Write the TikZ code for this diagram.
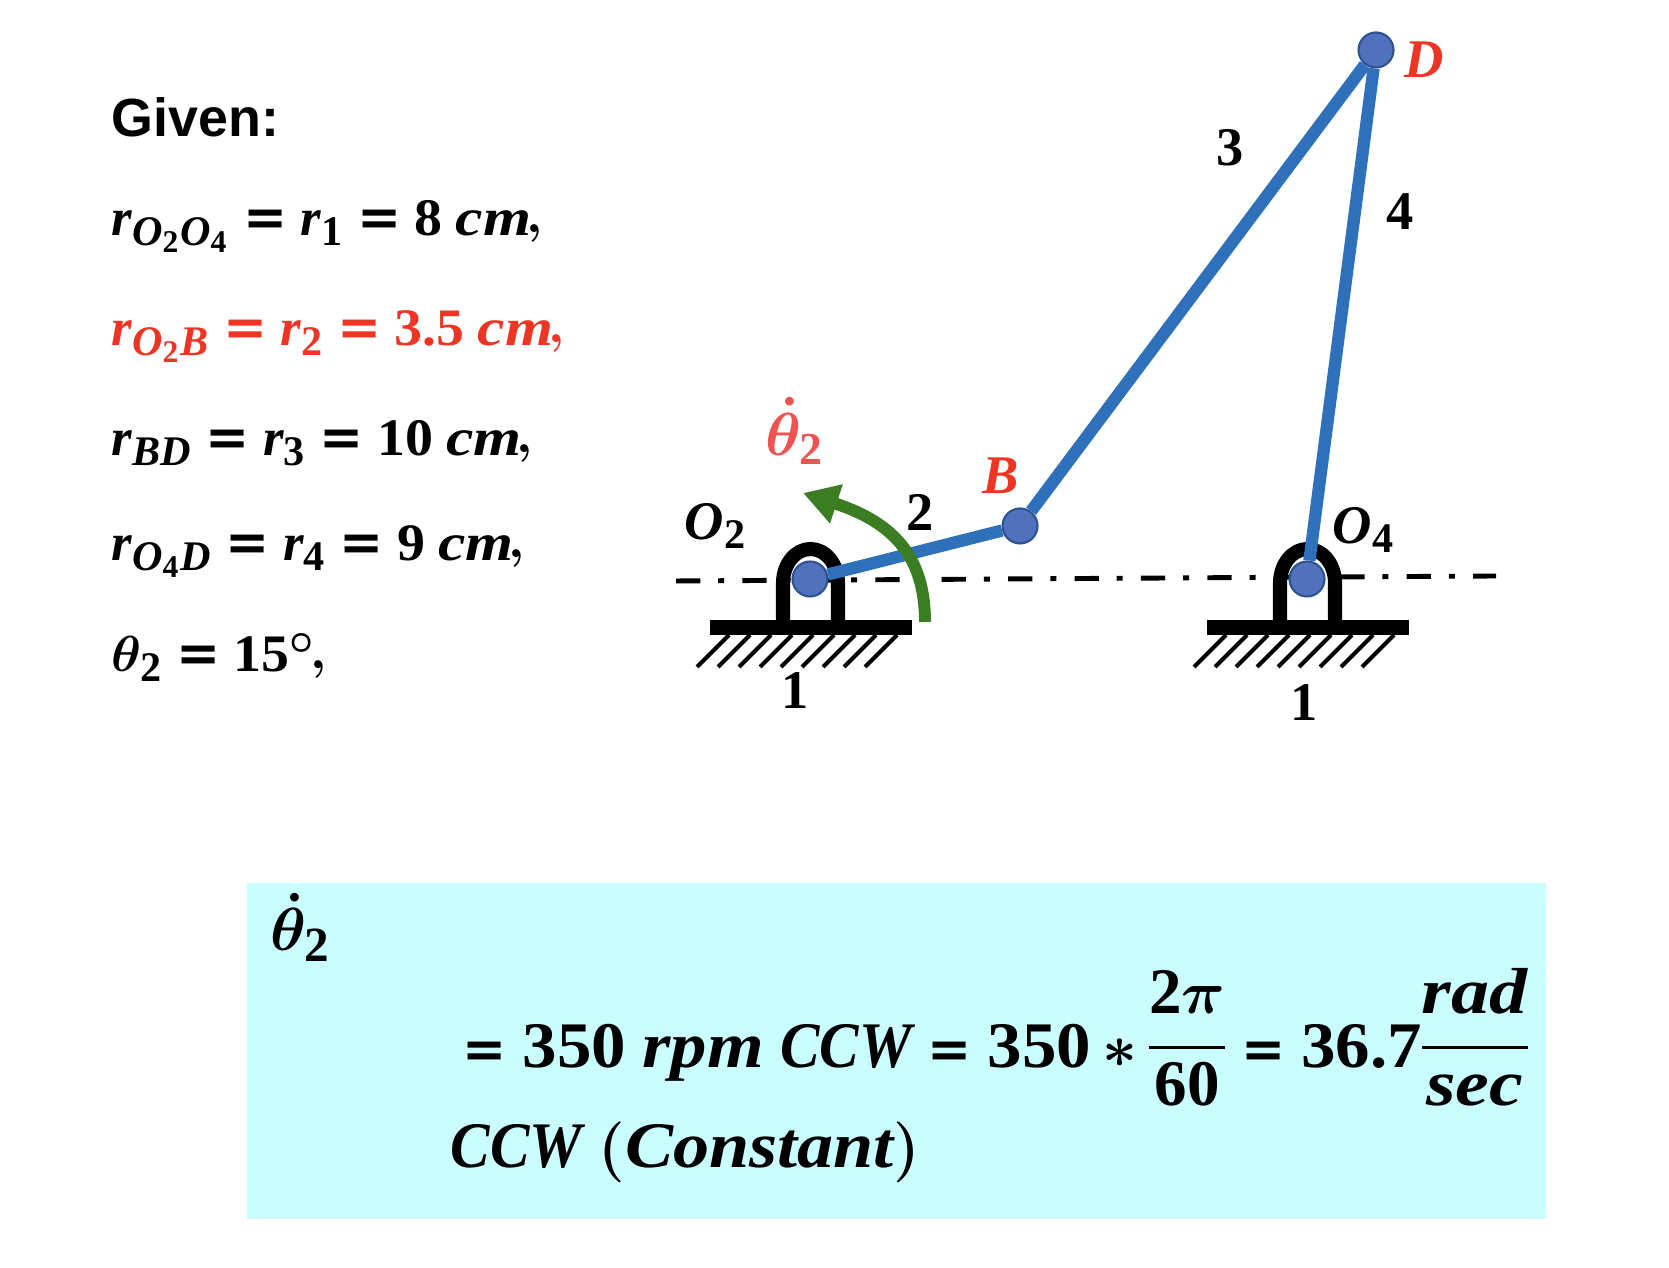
\documentclass[tikz,border=0pt]{standalone}
\usepackage{amsmath}
\usepackage{amssymb}
\usepackage{graphicx}
\usepackage{fontspec}
\usepackage{tikz}
\usepackage{color}
\usetikzlibrary{arrows.meta}
\setmainfont{Liberation Serif}
\newfontfamily\givenfont{Liberation Sans}
\newfontfamily\eqfont{DejaVu Sans}
\DeclareMathSizes{15}{15}{12}{9}
\DeclareMathSizes{15.5}{15.5}{12}{9}
\DeclareMathSizes{17}{17}{13}{9}
\DeclareMathSizes{18.5}{18.5}{14}{10}
\newcommand{\mi}[1]{\mathit{#1}}
\newcommand{\nb}[1]{\text{\bfseries #1}}
\newcommand{\bnum}[1]{\scalebox{1.06}[1]{\bfseries #1}}
\newcommand{\eqs}{\mathrel{\mbox{\fontsize{15}{18}\eqfont\bfseries =}}}
\newcommand{\wide}[2][1.17]{\scalebox{#1}[1]{$\mathit{#2}$}}
\newcommand{\upnum}[1]{\raisebox{1pt}{$#1$}}
\newcommand{\tailcomma}{\mkern-1.5mu\raisebox{1pt}{$,$}}
\thickmuskip=4.1mu\relax
\medmuskip=3mu\relax
\nulldelimiterspace=0pt\relax
\definecolor{linkblue}{HTML}{2E71BA}
\definecolor{pinfill}{HTML}{4F71BE}
\definecolor{pinedge}{HTML}{2F528F}
\definecolor{redtext}{HTML}{EE3524}
\definecolor{ratered}{HTML}{EF5350}
\definecolor{arrowgreen}{HTML}{3A7D22}
\definecolor{boxcyan}{HTML}{C9FDFF}
\tikzset{
    eqn/.style={anchor=base west, inner sep=0pt, font=\fontsize{15}{18}\selectfont\boldmath},
    lbl/.style={inner sep=0pt, font=\fontsize{15.5}{18}\selectfont\boldmath},
    boxeqn/.style={anchor=base west, inner sep=0pt, font=\fontsize{18.5}{22}\selectfont\boldmath},
    link/.style={linkblue, line width=3.5pt},
    pin/.style={circle, fill=pinfill, draw=pinedge, line width=0.6pt, minimum size=0.35cm, inner sep=0pt},
    arch/.style={black, line width=4pt},
    hatch/.style={black, line width=1.2pt}
}
\begin{document}
\begin{tikzpicture}
    \useasboundingbox (0,0) rectangle (16.69,12.68);

    % given values
    \node[anchor=base west, inner sep=0pt, font=\fontsize{15.3}{18}\selectfont\givenfont\bfseries] (given) at (1.11,11.31) {Given:};
    \node[eqn] (rone) at (1.11,10.32) {$\mi{r}_{\mi{O}_{\nb{2}}\mi{O}_{\nb{4}}}\eqs\mi{r}_{\nb{1}}\eqs\bnum{8}\ \wide{cm}\tailcomma$};
    \node[eqn, text=redtext] (rtwo) at (1.11,9.22) {$\mi{r}_{\mi{O}_{\nb{2}}\mi{B}}\eqs\mi{r}_{\nb{2}}\eqs\bnum{3.5}\ \wide{cm}\tailcomma$};
    \node[eqn] (rthree) at (1.11,8.12) {$\mi{r}_{\mi{BD}}\eqs\mi{r}_{\nb{3}}\eqs\bnum{10}\ \wide{cm}\tailcomma$};
    \node[eqn] (rfour) at (1.11,7.07) {$\mi{r}_{\mi{O}_{\nb{4}}\mi{D}}\eqs\mi{r}_{\nb{4}}\eqs\bnum{9}\ \wide{cm}\tailcomma$};
    \node[eqn] (thetatwo) at (1.11,5.96) {$\theta_{\nb{2}}\eqs\bnum{15}^{\circ}\tailcomma$};

    % center line
    \coordinate (axisL) at (6.76,6.87);
    \coordinate (axisR) at (14.96,6.92);
    \draw[black, line width=1.4pt, dash pattern=on 6.9pt off 5.1pt on 1.7pt off 5.2pt] (axisL) -- (axisR);

    % ground supports
    \foreach \gx in {8.10,13.07} {
        \fill[black] ({\gx-1},6.33) rectangle ({\gx+1.02},6.48);
        \draw[arch] ({\gx-0.27},6.45) -- ({\gx-0.27},6.85) arc[start angle=180, end angle=0, x radius=0.275, y radius=0.34] -- ({\gx+0.28},6.45);
        \foreach \i in {0,...,8}
            \draw[hatch] ({\gx-0.81+\i*0.21},6.33) -- ++(-0.32,-0.32);
    }

    % pins
    \node[pin] (O2) at (8.10,6.89) {};
    \node[pin] (B) at (10.20,7.42) {};
    \node[pin] (D) at (13.76,12.18) {};
    \node[pin] (O4) at (13.07,6.89) {};

    % links
    \draw[link] (O2) -- (B);
    \draw[link] (B) -- (D);
    \draw[link] (O4) -- (D);

    % input rotation
    \coordinate (arrowS) at (9.25,6.46);
    \coordinate (arrowE) at (8.03,7.75);
    \draw[arrowgreen, line width=3.4pt, -{Triangle[length=10pt, width=11pt]}] (arrowS) .. controls (9.25,7.10) and (8.95,7.45) .. (arrowE);

    % labels
    \node[lbl, text=ratered, font=\fontsize{17}{20}\selectfont\boldmath] (rate) at (7.95,8.37) {$\dot{\theta}_{\nb{2}}$};
    \node[lbl] (ltwo) at (9.20,7.56) {$\nb{2}$};
    \node[lbl, text=redtext] (lB) at (10.01,7.92) {$\mi{B}$};
    \node[lbl, text=redtext] (lD) at (14.24,12.08) {$\mi{D}$};
    \node[lbl] (lOtwo) at (7.16,7.42) {$\mi{O}_{\nb{2}}$};
    \node[lbl] (lOfour) at (13.64,7.38) {$\mi{O}_{\nb{4}}$};
    \node[lbl] (lthree) at (12.30,11.20) {$\nb{3}$};
    \node[lbl] (lfour) at (14.00,10.56) {$\nb{4}$};
    \node[lbl] (groundL) at (7.95,5.77) {$\nb{1}$};
    \node[lbl] (groundR) at (13.04,5.65) {$\nb{1}$};

    % input speed box
    \fill[boxcyan] (2.47,0.49) rectangle (15.46,3.85);
    \node[boxeqn] (speedsym) at (2.70,3.17) {$\dot{\theta}_{\nb{2}}$};
    \node[boxeqn] (speed) at (4.62,2.00) {$\eqs\bnum{350}\ \wide[1.12]{rpm}\ \wide[0.91]{CCW}\eqs\bnum{350}*\raisebox{1.5pt}{$\dfrac{\upnum{\nb{2}\pi}}{\upnum{\nb{60}}}$}\eqs\bnum{36.7}\raisebox{1.5pt}{$\dfrac{\upnum{\wide{rad}}}{\upnum{\wide{sec}}}$}$};
    \node[boxeqn] (speedtype) at (4.50,1.00) {$\wide[0.91]{CCW}\ (\wide[1.11]{Constant})$};
\end{tikzpicture}
\end{document}
